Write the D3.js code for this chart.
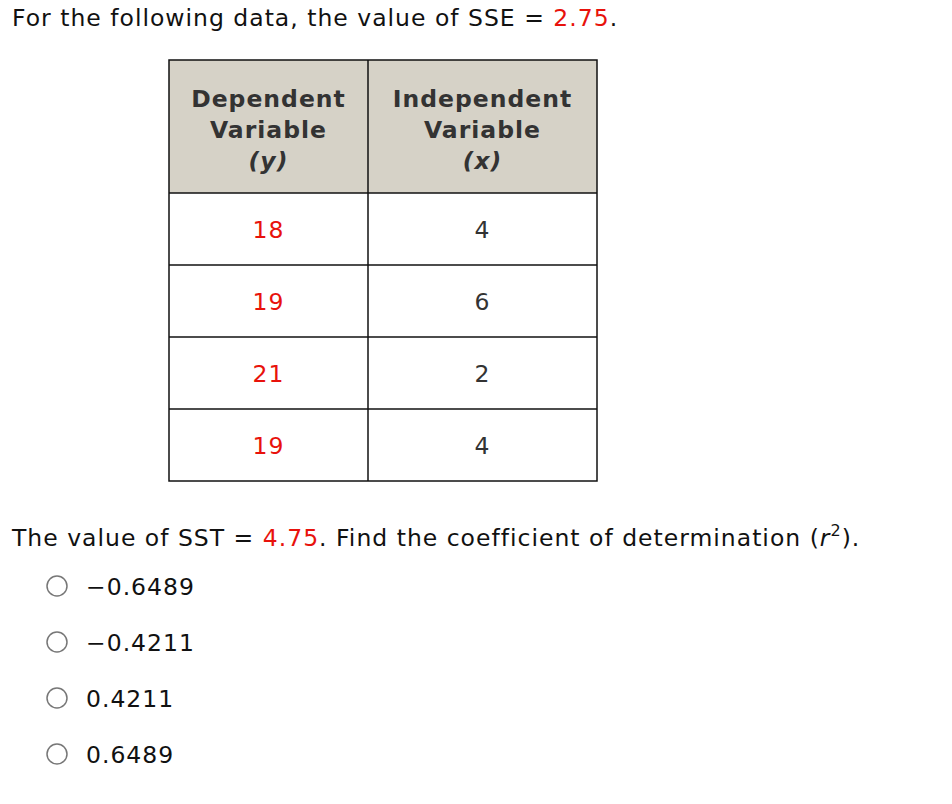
<!DOCTYPE html>
<html><head><meta charset="utf-8">
<script src="https://cdn.jsdelivr.net/npm/d3@7"></script>
<style>body{margin:0;background:#fff} text{letter-spacing:1px}</style>
</head><body>
<svg id="chart" width="952" height="804"></svg>
<script>
const sse = "2.75";
const sst = "4.75";
const yVals = [18, 19, 21, 19];
const xVals = [4, 6, 2, 4];
const choices = ["\u22120.6489", "\u22120.4211", "0.4211", "0.6489"];

const svg = d3.select("#chart");
const font = "DejaVu Sans, Verdana, sans-serif";
const fs = 23.5;
const red = "#e8120c";

// title line
const t = svg.append("text").attr("x", 12).attr("y", 26)
  .attr("font-family", font).attr("font-size", fs).attr("fill", "#111");
t.append("tspan").text("For the following data, the value of SSE = ");
t.append("tspan").attr("fill", red).text(sse);
t.append("tspan").text(".");

// table
const colW = [199, 229];
const colL = [169, 368];
const rowY = d3.scaleBand().domain(d3.range(yVals.length)).range([193, 481]);

svg.append("rect").attr("x", 169).attr("y", 60).attr("width", 428).attr("height", 133)
  .attr("fill", "#d6d2c7");

const headers = [["Dependent", "Variable", "(y)"], ["Independent", "Variable", "(x)"]];
headers.forEach((h, c) => {
  h.forEach((line, i) => {
    svg.append("text").attr("x", colL[c] + colW[c] / 2).attr("y", 107 + i * 31)
      .attr("text-anchor", "middle").attr("font-family", font).attr("font-weight", "bold")
      .attr("font-size", fs).attr("fill", "#333")
      .attr("font-style", i === 2 ? "italic" : null).text(line);
  });
});

yVals.forEach((v, i) => {
  const cy = rowY(i) + rowY.bandwidth() / 2 + 9;
  svg.append("text").attr("x", colL[0] + colW[0] / 2).attr("y", cy).attr("text-anchor", "middle")
    .attr("font-family", font).attr("font-size", fs).attr("fill", red).text(v);
  svg.append("text").attr("x", colL[1] + colW[1] / 2).attr("y", cy).attr("text-anchor", "middle")
    .attr("font-family", font).attr("font-size", fs).attr("fill", "#333").text(xVals[i]);
});

// grid lines
const g = svg.append("g").attr("stroke", "#111").attr("stroke-width", 1.5).attr("fill", "none");
g.append("rect").attr("x", 169).attr("y", 60).attr("width", 428).attr("height", 421);
g.append("line").attr("x1", 368).attr("x2", 368).attr("y1", 60).attr("y2", 481);
[193].concat(d3.range(1, yVals.length).map(i => rowY(i))).forEach(y =>
  g.append("line").attr("x1", 169).attr("x2", 597).attr("y1", y).attr("y2", y));

// question
const q = svg.append("text").attr("x", 12).attr("y", 546)
  .attr("font-family", font).attr("font-size", fs).attr("fill", "#111");
q.append("tspan").text("The value of SST = ");
q.append("tspan").attr("fill", red).text(sst);
q.append("tspan").text(". Find the coefficient of determination (");
q.append("tspan").attr("font-style", "italic").text("r");
q.append("tspan").attr("font-size", 16).attr("dy", -10).text("2");
q.append("tspan").attr("dy", 10).text(").");

// choices
const optY = d3.scalePoint().domain(d3.range(choices.length)).range([586, 754]);
choices.forEach((c, i) => {
  svg.append("circle").attr("cx", 57).attr("cy", optY(i)).attr("r", 10)
    .attr("fill", "#fff").attr("stroke", "#777").attr("stroke-width", 1.5);
  svg.append("text").attr("x", 86).attr("y", optY(i) + 9)
    .attr("font-family", font).attr("font-size", fs).attr("fill", "#111").text(c);
});
</script>
</body></html>
